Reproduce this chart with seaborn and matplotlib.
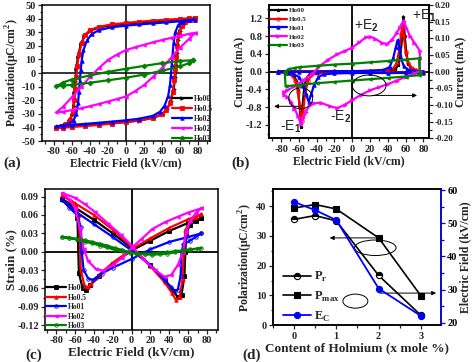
import matplotlib
matplotlib.use("Agg")
import matplotlib.pyplot as plt
import seaborn as sns
from matplotlib.patches import Ellipse
from matplotlib.ticker import MultipleLocator, AutoMinorLocator, FormatStrFormatter

sns.set_style("ticks")
plt.rcParams["font.family"] = ["Liberation Serif", "DejaVu Serif"]
plt.rcParams["font.weight"] = "bold"
plt.rcParams["axes.labelweight"] = "bold"
plt.rcParams["axes.unicode_minus"] = False
plt.rcParams["mathtext.fontset"] = "custom"
plt.rcParams["mathtext.rm"] = "Liberation Serif:bold"
plt.rcParams["mathtext.bf"] = "Liberation Serif:bold"
plt.rcParams["mathtext.sf"] = "Liberation Sans"

W, H = 474, 362

# ---- (a) P-E loops: field (kV/cm), polarization (uC/cm2)
A_HO00_E = [77, 70, 60, 45, 30, 15, 0, -15, -30, -40, -46, -50, -53, -55, -56, -57, -58, -60, -63, -67, -72, -77,
            -70, -60, -45, -30, -15, 0, 15, 30, 40, 46, 50, 53, 55, 56, 57, 58, 60, 63, 67, 72, 77]
A_HO00_P = [39.5, 39.2, 38.8, 38.2, 37.6, 37, 36.2, 35.2, 33.5, 31, 27, 21, 12, 3, -6, -15, -24, -31, -35.5, -37.8, -38.8, -39.5,
            -39.2, -38.8, -38.2, -37.6, -37, -36, -35, -33, -30.5, -26.5, -20.5, -12, -3, 6, 15, 24, 31, 35.5, 37.8, 38.8, 39.5]
A_HO05_E = [77, 70, 60, 45, 30, 15, 0, -15, -30, -40, -45, -49, -52, -54, -55, -56, -57, -59, -62, -66, -71, -77,
            -70, -60, -45, -30, -15, 0, 15, 30, 40, 45, 49, 52, 54, 55, 56, 57, 59, 62, 66, 71, 77]
A_HO05_P = [40.5, 40.2, 39.8, 39.2, 38.5, 37.7, 36.8, 35.8, 34, 31.5, 28, 22, 14, 5, -3, -12, -20, -29, -34.5, -37.5, -39.3, -40.5,
            -40.2, -39.7, -39, -38.2, -37.2, -36, -34.8, -33, -30.5, -27.5, -22, -14, -5, 3, 12, 20, 29, 34.5, 37.5, 39.3, 40.5]
A_HO01_E = [77, 70, 60, 45, 30, 15, 0, -15, -30, -38, -43, -47, -49, -50, -51, -52, -53, -55, -58, -63, -70, -77,
            -70, -60, -45, -30, -15, 0, 15, 30, 38, 43, 47, 49, 50, 51, 52, 53, 55, 58, 63, 70, 77]
A_HO01_P = [39.3, 38.7, 38, 37.2, 36.5, 35.7, 34.8, 33.7, 31.5, 28.5, 24, 17, 9, 2, -6, -14, -22, -30, -35, -37.5, -38.7, -39.3,
            -38.8, -38.2, -37.4, -36.6, -35.7, -34.8, -33.6, -31.5, -28.5, -24, -17, -9, -2, 6, 14, 22, 30, 35, 37.5, 38.7, 39.3]
A_HO02_E = [77, 70, 60, 50, 40, 30, 20, 10, 0, -10, -20, -30, -40, -50, -60, -70, -77,
            -70, -60, -50, -40, -30, -20, -10, 0, 10, 20, 30, 40, 50, 60, 70, 77]
A_HO02_P = [29.5, 28.7, 27.3, 25.8, 24.2, 22.5, 20.7, 18.8, 16.8, 13.5, 9.5, 3.5, -3, -10.5, -18, -25, -29,
            -28.5, -27.3, -26, -24.5, -22.8, -21, -19.2, -17.3, -13.5, -9, -3, 3.5, 11, 18.5, 25, 29.5]
A_HO03_E = [75, 60, 40, 20, 0, -20, -40, -60, -70, -77, -70, -60, -40, -20, 0, 20, 40, 60, 70, 75]
A_HO03_P = [9.5, 8.8, 7.2, 5.2, 3.1, 0.8, -1.8, -4.8, -7, -9.8, -9.3, -8.7, -7.2, -5.4, -3.5, -1.2, 1.6, 4.8, 7.2, 9.5]
A_LABELS = ["Ho00", "Ho0.5", "Ho02", "Ho02", "Ho03"]

# ---- (b) I-E loops: field (kV/cm), current (mA)
B_HO00_E = [-83, -60, -40, -20, 0, 20, 40, 48, 52, 54, 56, 57.5, 59, 61, 63, 66, 70, 75, 80,
            80, 70, 60, 40, 20, 0, -20, -40, -48, -52, -54, -56, -57.5, -59, -61, -63, -66, -70, -76, -83]
B_HO00_I = [0.01, 0.01, 0.01, 0.01, 0.01, 0.01, 0.02, 0.05, 0.15, 0.35, 0.75, 1.24, 0.8, 0.4, 0.18, 0.07, 0.03, 0.01, 0.0,
            -0.01, -0.02, -0.02, -0.02, -0.02, -0.02, -0.02, -0.03, -0.06, -0.16, -0.36, -0.78, -1.24, -0.82, -0.42, -0.2, -0.08, -0.04, -0.02, -0.01]
B_HO05_E = [-83, -60, -40, -20, 0, 20, 40, 46, 50, 53, 55, 56.5, 58, 60, 63, 67, 72, 80,
            80, 72, 60, 40, 20, 0, -20, -40, -46, -50, -53, -55, -57, -59, -61, -64, -68, -74, -83]
B_HO05_I = [0.0, 0.01, 0.01, 0.01, 0.01, 0.02, 0.03, 0.07, 0.2, 0.5, 0.85, 1.07, 0.8, 0.45, 0.2, 0.08, 0.03, 0.0,
            -0.01, -0.02, -0.02, -0.02, -0.02, -0.03, -0.03, -0.04, -0.08, -0.22, -0.5, -0.85, -1.1, -0.8, -0.45, -0.2, -0.08, -0.03, 0.0]
B_HO01_E = [-83, -60, -40, -20, 0, 20, 35, 42, 46, 49, 51, 53, 55, 58, 62, 68, 75, 80,
            80, 60, 40, 20, 0, -20, -32, -38, -43, -46, -49, -52, -55, -60, -66, -72, -83]
B_HO01_I = [0.0, 0.0, 0.0, 0.01, 0.01, 0.02, 0.04, 0.1, 0.3, 0.55, 0.71, 0.55, 0.3, 0.12, 0.05, 0.02, 0.01, 0.0,
            -0.02, -0.03, -0.03, -0.03, -0.03, -0.04, -0.06, -0.12, -0.3, -0.5, -0.68, -0.5, -0.3, -0.12, -0.06, -0.03, 0.0]
B_HO02_E = [-77, -73, -65, -54, -45, -37, -27, -17, -8, 0, 8, 15, 20, 26, 33, 39, 45, 50, 54, 58, 61, 65, 70, 76, 76,
            70, 60, 50, 40, 30, 20, 10, 0, -8, -17, -25, -35, -43, -48, -52, -55, -58, -61, -65, -69, -73, -77, -77]
B_HO02_I = [-0.46, -0.42, -0.33, -0.18, -0.05, 0.12, 0.27, 0.39, 0.47, 0.54, 0.66, 0.77, 0.79, 0.74, 0.65, 0.62, 0.72, 0.88, 1.0, 1.15, 0.98, 0.8, 0.65, 0.47, 0.02,
            -0.04, -0.12, -0.2, -0.28, -0.35, -0.42, -0.52, -0.64, -0.74, -0.82, -0.78, -0.7, -0.71, -0.76, -0.9, -1.05, -1.18, -1.0, -0.83, -0.68, -0.57, -0.52, -0.46]
B_HO03_E = [-76, -72, -66, -60, -40, -20, 0, 20, 40, 60, 75, 76,
            75, 60, 40, 20, 0, -20, -40, -60, -75, -76]
B_HO03_I = [-0.02, 0.05, 0.08, 0.1, 0.13, 0.16, 0.18, 0.21, 0.24, 0.27, 0.3, -0.02,
            -0.08, -0.11, -0.14, -0.17, -0.2, -0.23, -0.26, -0.3, -0.33, -0.02]
BC_LABELS = ["Ho00", "Ho0.5", "Ho01", "Ho02", "Ho03"]

# ---- (c) S-E butterfly loops: field (kV/cm), strain (%)
C_HO00_E = [74, 60, 40, 20, 0, -20, -35, -44, -48, -52, -56, -57, -57.5, -60, -66, -74,
            -60, -40, -20, 0, 20, 35, 44, 49, 53, 56, 57, 58, 62, 68, 74]
C_HO00_S = [0.055, 0.047, 0.034, 0.018, 0.002, -0.02, -0.04, -0.055, -0.063, -0.06, -0.035, 0.02, 0.055, 0.07, 0.078, 0.086,
            0.072, 0.052, 0.03, 0.006, -0.022, -0.046, -0.064, -0.074, -0.07, -0.04, 0.0, 0.03, 0.044, 0.05, 0.055]
C_HO05_E = [74, 60, 40, 20, 0, -20, -35, -43, -46, -50, -54, -55, -56, -60, -66, -74,
            -60, -40, -20, 0, 20, 35, 43, 47, 51, 54, 55.5, 57, 62, 68, 74]
C_HO05_S = [0.061, 0.053, 0.039, 0.022, 0.004, -0.018, -0.038, -0.052, -0.058, -0.056, -0.03, 0.02, 0.06, 0.078, 0.085, 0.092,
            0.079, 0.06, 0.036, 0.008, -0.024, -0.05, -0.068, -0.079, -0.074, -0.045, 0.0, 0.035, 0.05, 0.056, 0.061]
C_HO01_E = [74, 60, 40, 20, 0, -20, -32, -38, -41, -46, -51, -53, -54, -58, -66, -74,
            -60, -40, -20, 0, 20, 35, 42, 46, 49, 52, 53, 55, 62, 68, 74]
C_HO01_S = [0.03, 0.024, 0.016, 0.004, -0.012, -0.026, -0.036, -0.043, -0.046, -0.044, -0.03, 0.0, 0.04, 0.06, 0.072, 0.085,
            0.066, 0.045, 0.024, 0.002, -0.022, -0.046, -0.058, -0.064, -0.062, -0.04, 0.0, 0.012, 0.018, 0.024, 0.03]
C_HO02_E = [74, 60, 49, 35, 22, 10, 0, -10, -20, -30, -38, -46, -51, -55, -60, -66, -74,
            -60, -50, -39, -25, -11, 0, 12, 25, 35, 42, 49, 54.5, 58, 62, 68, 74]
C_HO02_S = [0.071, 0.064, 0.057, 0.048, 0.037, 0.02, 0.006, -0.01, -0.022, -0.031, -0.028, -0.016, 0.005, 0.038, 0.071, 0.085, 0.096,
            0.088, 0.078, 0.065, 0.046, 0.027, 0.01, -0.012, -0.03, -0.041, -0.038, -0.022, 0.0, 0.033, 0.05, 0.063, 0.071]
C_HO03_E = [-74, -66, -58, -50, -42, -34, -26, -18, -10, -2, 6, 14, 22, 30, 38, 46, 54, 62, 70, 74,
            70, 62, 54, 46, 38, 30, 22, 14, 6, -2, -10, -18, -26, -34, -42, -50, -58, -66, -74]
C_HO03_S = [0.024, 0.022, 0.02, 0.016, 0.014, 0.01, 0.007, 0.003, 0.001, -0.002, -0.003, -0.004, -0.003, -0.002, -0.001, 0.001, 0.002, 0.004, 0.005, 0.006,
            0.005, 0.003, 0.001, -0.001, -0.003, -0.004, -0.005, -0.004, -0.003, -0.001, 0.003, 0.006, 0.01, 0.013, 0.016, 0.019, 0.021, 0.023, 0.024]

# ---- (d) summary vs Ho content
HO_CONTENT = [0, 0.5, 1, 2, 3]
PR = [35.5, 36.8, 35.0, 16.7, 3.3]
PMAX = [39.3, 40.5, 39.0, 29.3, 9.8]
EC = [56.5, 54.0, 51.0, 30.3, 22.0]

COLORS = ["#000000", "#ff0000", "#0000ff", "#ff00ff", "#008000"]


def px_rect(l, t, r, b):
    return [l / W, 1 - b / H, (r - l) / W, (b - t) / H]


def px_pt(x, y):
    return (x / W, 1 - y / H)


def loop(ax, x, y, color, marker, label, ms=2.5, lw=1.6, mfc=None):
    sns.lineplot(x=x, y=y, ax=ax, sort=False, estimator=None, color=color, lw=lw,
                 marker=marker, markersize=ms, markeredgecolor=color, markeredgewidth=0.6,
                 markerfacecolor=color if mfc is None else mfc, label=label)


def style(ax, xmaj=None, ymaj=None, fmt=None):
    for s in ax.spines.values():
        s.set_linewidth(1.1)
        s.set_color("k")
    if xmaj is not None:
        ax.xaxis.set_major_locator(MultipleLocator(xmaj))
        ax.xaxis.set_minor_locator(AutoMinorLocator(2))
    if ymaj is not None:
        ax.yaxis.set_major_locator(MultipleLocator(ymaj))
        ax.yaxis.set_minor_locator(AutoMinorLocator(2))
    if fmt:
        ax.yaxis.set_major_formatter(FormatStrFormatter(fmt))
    ax.tick_params(which="both", direction="out", labelsize=7.5, width=0.9, pad=1.5,
                   top=False, right=False)
    ax.tick_params(which="major", length=3)
    ax.tick_params(which="minor", length=1.8)


def small_legend(ax, anchor, fs=5.5, spacing=0.25):
    leg = ax.legend(loc="upper left", bbox_to_anchor=px_pt(*anchor), bbox_transform=fig.transFigure,
                    frameon=False, fontsize=fs, handlelength=2.6, handletextpad=0.3,
                    labelspacing=spacing, borderpad=0, borderaxespad=0)
    for t in leg.get_texts():
        t.set_fontweight("bold")
    return leg


fig = plt.figure(figsize=(W / 100, H / 100), dpi=100)

# ---------------- (a)
ax_a = fig.add_axes(px_rect(42, 5, 210.5, 141))
a_sets = [(A_HO00_E, A_HO00_P, ">"), (A_HO05_E, A_HO05_P, "s"), (A_HO01_E, A_HO01_P, "^"),
          (A_HO02_E, A_HO02_P, "<"), (A_HO03_E, A_HO03_P, "D")]
for (x, y, m), c, lab in zip(a_sets, COLORS, A_LABELS):
    loop(ax_a, x, y, c, m, lab)
ax_a.axhline(0, color="k", lw=1.1, zorder=0)
ax_a.axvline(0, color="k", lw=1.1, zorder=0)
ax_a.set_xlim(-93, 94)
ax_a.set_ylim(-50, 50)
style(ax_a, 20, 10)
ax_a.set_xlabel("Electric Field (kV/cm)", fontsize=8.5, labelpad=1)
ax_a.set_ylabel("Polarization(μC/cm$^\\mathrm{2}$)", fontsize=8.5, labelpad=0)
small_legend(ax_a, (172, 95))

# ---------------- (b)
ax_b = fig.add_axes(px_rect(268.7, 5, 428.7, 138.3))
b_sets = [(B_HO00_E, B_HO00_I, "*", None), (B_HO05_E, B_HO05_I, "o", "none"), (B_HO01_E, B_HO01_I, "^", None),
          (B_HO02_E, B_HO02_I, ">", None), (B_HO03_E, B_HO03_I, "<", None)]
for (x, y, m, f), c, lab in zip(b_sets, COLORS, BC_LABELS):
    loop(ax_b, x, y, c, m, lab, mfc=f)
ax_b.axhline(0, color="k", lw=1.3, zorder=0)
ax_b.axvline(0, color="k", lw=1.3, zorder=0)
ax_b.set_xlim(-94, 86)
ax_b.set_ylim(-1.5, 1.5)
style(ax_b, 20, 0.4, "%.1f")
ax_b.set_xlabel("Electric Field (kV/cm)", fontsize=8.5, labelpad=1)
ax_b.set_ylabel("Current (mA)", fontsize=8.5, labelpad=0)
small_legend(ax_b, (269, 7.5), fs=5, spacing=0.42)
ax_b.add_patch(Ellipse((-58, -0.6), 27, 0.47, fill=False, lw=0.7, ec="k", zorder=5))
ax_b.add_patch(Ellipse((19, -0.31), 38, 0.47, fill=False, lw=0.7, ec="k", zorder=5))
ax_b.annotate("", xy=(-91, -0.78), xytext=(-56, -0.78),
              arrowprops=dict(arrowstyle="-|>", lw=0.7, color="k", mutation_scale=6))
ax_b.annotate("", xy=(76, -0.535), xytext=(19, -0.535),
              arrowprops=dict(arrowstyle="-|>", lw=0.7, color="k", mutation_scale=6))
for txt, xx, yy in [("+E$_\\mathsf{1}$", 67.5, 1.18), ("+E$_\\mathsf{2}$", 2, 0.95),
                    ("-E$_\\mathsf{1}$", -81, -1.33), ("-E$_\\mathsf{2}$", -24.5, -1.11)]:
    ax_b.text(xx, yy, txt, fontsize=10, family="Liberation Sans", fontweight="normal", zorder=6)
ax_b2 = ax_b.twinx()
ax_b2.set_ylim(-0.2, 0.2)
style(ax_b2, None, 0.05, "%.2f")
ax_b2.tick_params(which="both", right=True, left=False, labelright=True, labelleft=False, labelsize=6.5)
ax_b2.set_ylabel("Current (mA)", fontsize=8.5, labelpad=1)

# ---------------- (c)
ax_c = fig.add_axes(px_rect(45, 189.3, 218.3, 330))
c_sets = [(C_HO00_E, C_HO00_S, "s", None), (C_HO05_E, C_HO05_S, "^", None), (C_HO01_E, C_HO01_S, "o", "none"),
          (C_HO02_E, C_HO02_S, "<", None), (C_HO03_E, C_HO03_S, "o", "none")]
for (x, y, m, f), c, lab in zip(c_sets, COLORS, BC_LABELS):
    loop(ax_c, x, y, c, m, lab, mfc=f)
ax_c.axhline(0, color="k", lw=1.3, zorder=0)
ax_c.axvline(0, color="k", lw=1.3, zorder=0)
ax_c.set_xlim(-92, 92)
ax_c.set_ylim(-0.128, 0.102)
style(ax_c, 20, 0.03, "%.2f")
ax_c.set_xlabel("Electric Field (kV/cm)", fontsize=9.5, labelpad=1)
ax_c.set_ylabel("Strain (%)", fontsize=9.5, labelpad=0)
small_legend(ax_c, (46, 284), fs=5.5, spacing=0.2)

# ---------------- (d)
ax_d = fig.add_axes(px_rect(272.7, 189.3, 441, 325.3))
sns.lineplot(x=HO_CONTENT, y=PR, ax=ax_d, color="k", lw=1.2, marker="o", markersize=4.5,
             markeredgecolor="k", markeredgewidth=0.8, markerfacecolor="k", fillstyle="top",
             markerfacecoloralt="white", label="P$_\\mathrm{r}$")
sns.lineplot(x=HO_CONTENT, y=PMAX, ax=ax_d, color="k", lw=1.2, marker="s", markersize=4.5,
             markeredgecolor="k", markeredgewidth=0.8, label="P$_\\mathrm{max}$")
ax_d.set_xlim(-0.5, 3.47)
ax_d.set_ylim(0, 45.6)
style(ax_d, 1, 10)
ax_d.set_xlabel("Content of Holmium (x mole %)", fontsize=9.5, labelpad=1)
ax_d.set_ylabel("Polarization(μC/cm$^\\mathrm{2}$)", fontsize=8.5, labelpad=1)
ax_d.add_patch(Ellipse((1.92, 26), 0.98, 5.2, fill=False, lw=0.7, ec="k", zorder=5))
ax_d.add_patch(Ellipse((1.45, 8.1), 0.59, 4.7, fill=False, lw=0.7, ec="k", zorder=5))
ax_d.annotate("", xy=(0.78, 29.3), xytext=(2.0, 29.3),
              arrowprops=dict(arrowstyle="-|>", lw=0.7, color="k", mutation_scale=6))
ax_d.annotate("", xy=(3.42, 10.8), xytext=(1.96, 10.8),
              arrowprops=dict(arrowstyle="-|>", lw=0.7, color="k", mutation_scale=6))
ax_d2 = ax_d.twinx()
sns.lineplot(x=HO_CONTENT, y=EC, ax=ax_d2, color="#0000ff", lw=1.3, marker="o", markersize=4.5,
             markeredgecolor="#0000ff", markerfacecolor="#0000ff", label="E$_\\mathrm{C}$")
ax_d2.set_ylim(19.2, 60.3)
style(ax_d2, None, 10)
ax_d2.spines["right"].set_color("#0000ff")
ax_d2.tick_params(which="both", right=True, left=False, labelright=True, labelleft=False, colors="#0000ff",
                  labelcolor="k")
ax_d2.set_ylabel("Electric Field (kV/cm)", fontsize=8.5, labelpad=1)
h1, l1 = ax_d.get_legend_handles_labels()
h2, l2 = ax_d2.get_legend_handles_labels()
ax_d.get_legend().remove()
leg = ax_d2.legend(h1 + h2, l1 + l2, loc="upper left", bbox_to_anchor=px_pt(283, 270),
                   bbox_transform=fig.transFigure, frameon=False, fontsize=9, handlelength=2.2,
                   handletextpad=0.3, labelspacing=0.45, borderpad=0, borderaxespad=0)

# panel letters
for lab, x, y in [("(a)", 3, 167), ("(b)", 231, 167), ("(c)", 25, 359), ("(d)", 242, 359)]:
    fig.text(*px_pt(x, y), lab, fontsize=11, fontweight="bold", va="baseline")

fig.savefig("out.png", dpi=100)
